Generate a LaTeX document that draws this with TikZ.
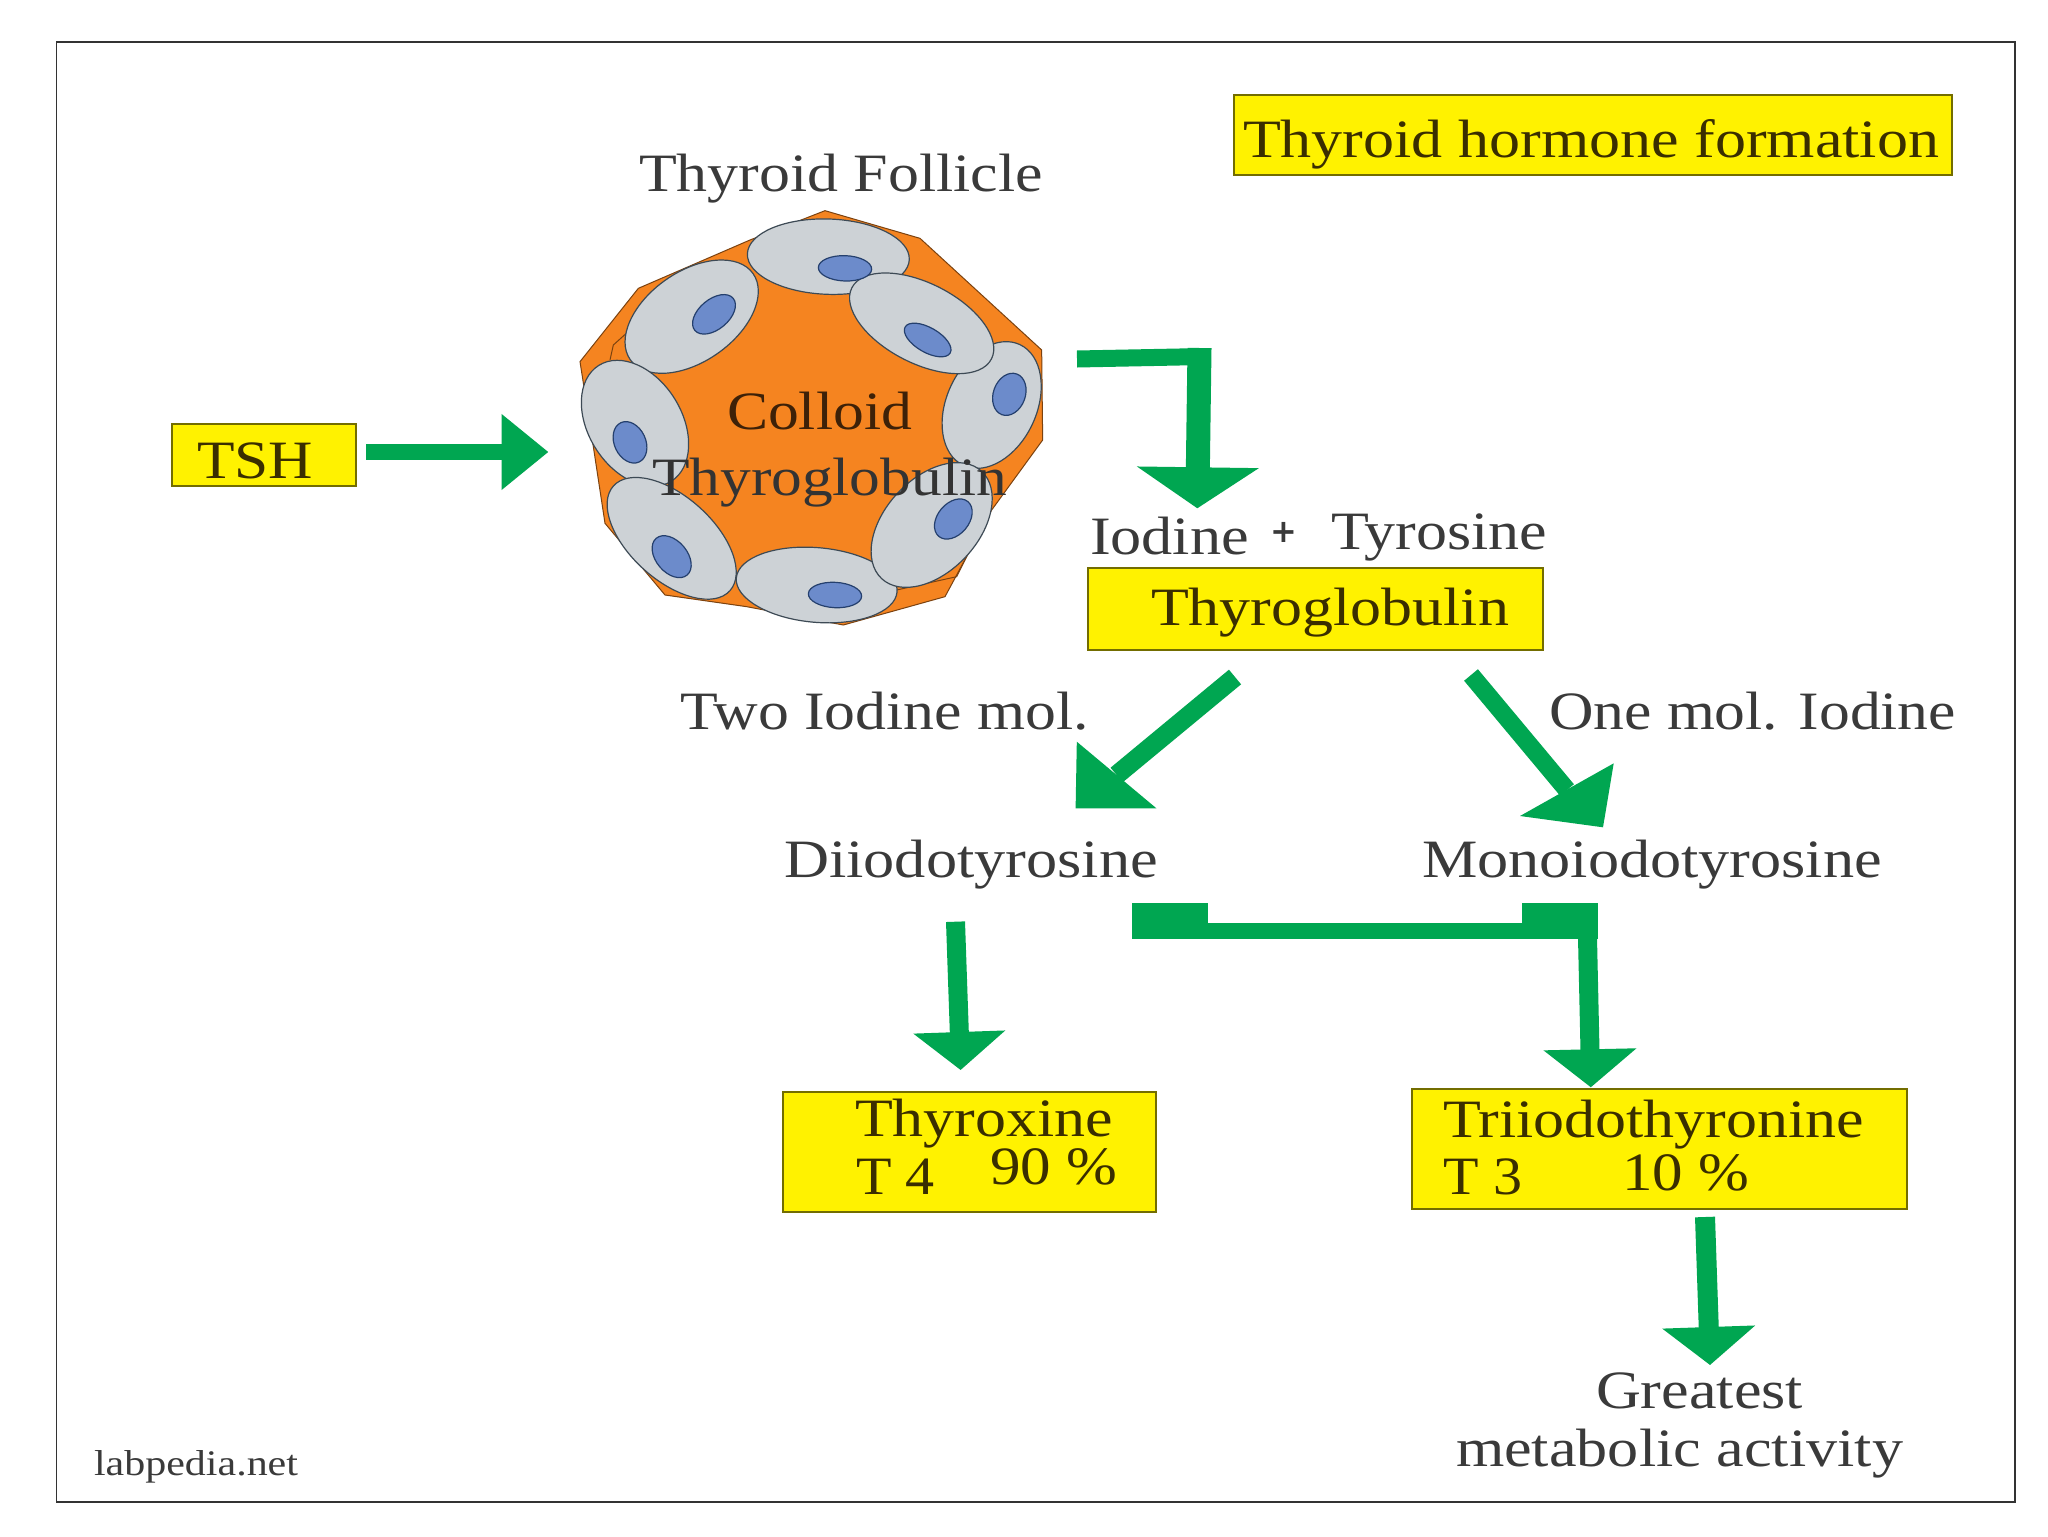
\documentclass[tikz,border=0pt]{standalone}
\usepackage{fontspec}
\usepackage{graphicx}
\setmainfont{Liberation Serif}
\newfontfamily\plusfont{DejaVu Sans}
\usetikzlibrary{arrows.meta}
\definecolor{ybox}{HTML}{FFF200}
\definecolor{gr}{HTML}{00A651}
\definecolor{ink}{HTML}{3A3A3A}
\definecolor{boxink}{HTML}{3A2E00}
\definecolor{orng}{HTML}{F58420}
\definecolor{cellg}{HTML}{CDD2D6}
\definecolor{nucl}{HTML}{6C8BCB}
\definecolor{celledge}{HTML}{3D4A55}
\definecolor{nucedge}{HTML}{25406E}
\tikzset{
  every node/.style={inner sep=0pt,outer sep=0pt},
  lab/.style={anchor=base west,text=ink},
  yellowbox/.style={draw=black!55!ybox,fill=ybox,line width=.6pt,anchor=north west},
  cellshape/.style={draw=celledge,fill=cellg,line width=.6pt},
  nucshape/.style={draw=nucedge,fill=nucl,line width=.6pt},
  shaft/.style={draw=gr,line width=#1*.5pt},
  bar/.style={fill=gr},
}
\newcommand{\lbl}[6][ink]{\node[lab,text=#1] (#2) at (#3,#4) {\resizebox{\dimexpr #5pt/2\relax}{\height}{\fontsize{27pt}{30pt}\selectfont #6}};}
\newcommand{\yb}[5]{\node[yellowbox,minimum width=\dimexpr #4pt/2\relax,minimum height=\dimexpr #5pt/2\relax] (#1) at (#2,#3) {};}
\newcommand{\cellat}[5]{%
  \draw[cellshape,shift={(#1,#2)},rotate=#5] (0,0) ellipse [x radius=#3,y radius=#4];}
\newcommand{\nucat}[5]{%
  \draw[nucshape,shift={(#1,#2)},rotate=#5] (0,0) ellipse [x radius=#3,y radius=#4];}
\begin{document}
\begin{tikzpicture}[x=.5pt,y=-.5pt]
\useasboundingbox (0,0) rectangle (2048,1536);
\fill[white] (0,0) rectangle (2048,1536);
\draw[black!80,line width=.7pt] (56.5,42) rectangle (2015,1502);

% follicle
\begin{scope}[shift={(550,190)},scale=1/3]
\draw[fill=orng,draw=black!50!orng,line width=.5pt] (825,62)--(1110,145)--(1475,480)--(1478,750)--(1325,960)--(1185,1220)--(880,1305)--(590,1250)--(345,1215)--(165,1000)--(130,770)--(90,515)--(265,295)--(600,150)--cycle;
\draw[black!50!orng,line width=.5pt] (240,420)--(190,465)--(180,510);
\draw[black!50!orng,line width=.5pt] (1040,1200)--(1220,1160)--(1320,960);
\cellat{425}{380}{225}{135}{35}
\cellat{835}{200}{243}{113}{-2}
\cellat{1325}{645}{200}{135}{65}
\cellat{1115}{400}{235}{120}{-27}
\cellat{255}{700}{205}{140}{-58}
\cellat{365}{1045}{235}{125}{-42}
\cellat{800}{1185}{242}{112}{-5}
\cellat{1145}{1005}{220}{140}{47}
\nucat{885}{235}{80}{38}{-2}
\nucat{492}{373}{75}{45}{40}
\nucat{1133}{450}{78}{37}{-30}
\nucat{1378}{613}{65}{48}{70}
\nucat{240}{757}{65}{47}{-65}
\nucat{365}{1100}{72}{47}{-50}
\nucat{1210}{987}{68}{47}{50}
\nucat{855}{1215}{80}{38}{-3}
\end{scope}

% boxes
\yb{title}{1234}{95}{718}{80}
\yb{tsh}{172}{424}{184}{62}
\yb{tg}{1088}{568}{455}{82}
\yb{t4}{783}{1092}{373}{120}
\yb{t3}{1412}{1089}{495}{120}

% labels
\lbl{lfoll}{639}{191}{404}{Thyroid Follicle}
\lbl[boxink]{ltitle}{1243}{157}{696}{Thyroid hormone formation}
\lbl[boxink]{ltsh}{197}{478}{116}{TSH}
\lbl[black!75!orng]{lcoll}{727}{429}{185}{Colloid}
\lbl[black!80]{lthy}{652}{495}{355}{Thyroglobulin}
\lbl{liod}{1090}{554}{159}{Iodine}
\node[text=ink,font=\plusfont\fontsize{16pt}{18pt}\selectfont\bfseries] (lplus) at (1284,532) {+};
\lbl{ltyr}{1331}{549}{216}{Tyrosine}
\lbl[boxink]{ltg}{1151}{625}{358}{Thyroglobulin}
\lbl{ltwo}{680}{729}{409}{Two Iodine mol.}
\lbl{lone}{1549}{729}{407}{One mol. Iodine}
\lbl{ldi}{784}{877}{374}{Diiodotyrosine}
\lbl{lmono}{1422}{877}{460}{Monoiodotyrosine}
\lbl[boxink]{lthx}{855}{1136}{258}{Thyroxine}
\lbl[boxink]{lt4}{856}{1194}{79}{T 4}
\lbl[boxink]{l90}{990}{1184}{127}{90 \%}
\lbl[boxink]{ltri}{1443}{1137}{421}{Triiodothyronine}
\lbl[boxink]{lt3}{1443}{1194}{79}{T 3}
\lbl[boxink]{l10}{1622}{1190}{127}{10 \%}
\lbl{lgr}{1596}{1408}{207}{Greatest}
\lbl{lmet}{1456}{1466}{447}{metabolic activity}
\node[lab] (lnet) at (94,1475) {\resizebox{102pt}{\height}{\fontsize{18pt}{20pt}\selectfont labpedia.net}};

% connector end points
\coordinate (tshA) at (366,452);   \coordinate (tshB) at (548.5,452);
\coordinate (elA) at (1077,359);   \coordinate (elC) at (1205,356.5);
\coordinate (elD) at (1199.5,348); \coordinate (elB) at (1197.3,508.3);
\coordinate (twoA) at (1235,677);  \coordinate (twoB) at (1116.6,775);
\coordinate (oneA) at (1471,675);  \coordinate (oneB) at (1567,790);
\coordinate (t4A) at (955.5,921.7);\coordinate (t4B) at (960.6,1070);
\coordinate (brA) at (1132,931);   \coordinate (brB) at (1598,931);
\coordinate (t3A) at (1587.5,938); \coordinate (t3B) at (1590.8,1087.3);
\coordinate (acA) at (1705,1217);  \coordinate (acB) at (1710,1365);

% connectors
\draw[shaft=16,-{Triangle[length=23.5pt,width=36.5pt]},gr] (tshA) -- (tshB);
\draw[shaft=17] (elA) -- (elC);
\draw[shaft=24,-{Triangle[length=20.5pt,width=60pt]},gr] (elD) -- (elB);
\draw[shaft=19] (twoA) -- (twoB);
\fill[bar] (1075.6,808.3) -- (1076.8,741.7) -- (1156.4,808.3) -- cycle;
\draw[shaft=18] (oneA) -- (oneB);
\fill[bar] (1603,827.3) -- (1520,816) -- (1613.7,763.3) -- cycle;
\draw[shaft=19,-{Triangle[length=19pt,width=45pt]},gr] (t4A) -- (t4B);
\draw[shaft=16] (brA) -- (brB);
\fill[bar] (1132,903) rectangle (1208,939);
\fill[bar] (1522,903) rectangle (1598,939);
\draw[shaft=19,-{Triangle[length=19pt,width=45.5pt]},gr] (t3A) -- (t3B);
\draw[shaft=20,-{Triangle[length=19pt,width=45.5pt]},gr] (acA) -- (acB);
\end{tikzpicture}
\end{document}
